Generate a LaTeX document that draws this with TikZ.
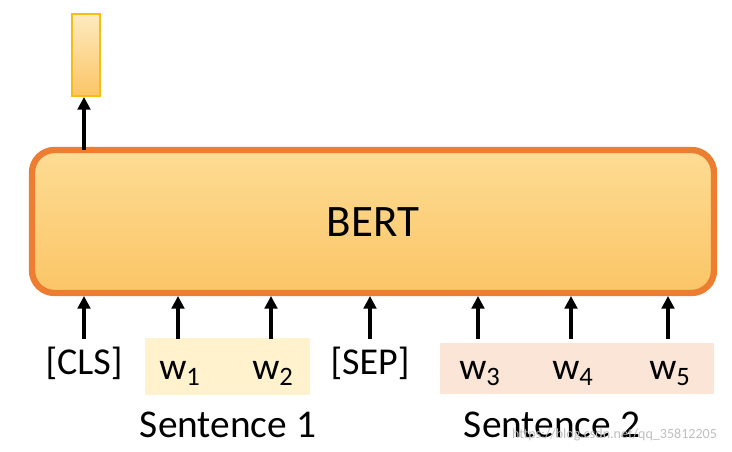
\documentclass[tikz,border=0pt]{standalone}
\usepackage{fontspec}
\setmainfont{Carlito}
\usetikzlibrary{arrows.meta}
\definecolor{borderO}{HTML}{ED7D31}
\definecolor{fillTop}{HTML}{FDDC94}
\definecolor{fillBot}{HTML}{FBC566}
\definecolor{sOne}{HTML}{FFF2CC}
\definecolor{sTwo}{HTML}{FBE5D6}
\begin{document}
\begin{tikzpicture}[x=0.025cm,y=-0.025cm,
  arr/.style={-{Triangle[length=9pt,width=9pt]},line width=2.2pt,black},
  lab/.style={font=\fontsize{27}{30}\selectfont,anchor=base},
  sent/.style={font=\fontsize{28}{31}\selectfont,anchor=base}]
\useasboundingbox (0,0) rectangle (732,452);
\fill[sOne] (145,338) rectangle (310,395);
\fill[sTwo] (440,343) rectangle (714,394);
\path[draw=borderO,line width=4.5pt,rounded corners=16pt,top color=fillTop,bottom color=fillBot]
  (32,150) rectangle (714,293);
\node[font=\fontsize{32}{36}\selectfont] (bertlab) at (373,222) {BERT};
\path[draw={rgb,255:red,245;green,190;blue,20},line width=1pt,top color=fillTop!60,bottom color=fillBot]
  (72,14) rectangle (100,96);
\coordinate (outtop) at (84,97);
\coordinate (bt) at (84,150);
\draw[arr] (bt) -- (outtop);
\foreach \n/\x in {cls/84,wa/178,wb/271,sep/370,wc/478,wd/571,we/668}{
  \coordinate (s\n) at (\x,339);
  \coordinate (e\n) at (\x,296);
  \draw[arr] (s\n) -- (e\n);
}
\node[lab] (lcls) at (84,375) {[CLS]};
\node[lab] (lwa) at (180,380) {w\textsubscript{1}};
\node[lab] (lwb) at (273,380) {w\textsubscript{2}};
\node[lab] (lsep) at (370,375) {[SEP]};
\node[lab] (lwc) at (480,380) {w\textsubscript{3}};
\node[lab] (lwd) at (573,380) {w\textsubscript{4}};
\node[lab] (lwe) at (670,380) {w\textsubscript{5}};
\node[sent] (s1) at (228,438) {Sentence 1};
\node[sent] (s2) at (552,438) {Sentence 2};
\node[font=\fontsize{10}{12}\selectfont,text=gray!50,anchor=east] (wm) at (722,435) {https://blog.csdn.net/qq\_35812205};
\end{tikzpicture}
\end{document}
